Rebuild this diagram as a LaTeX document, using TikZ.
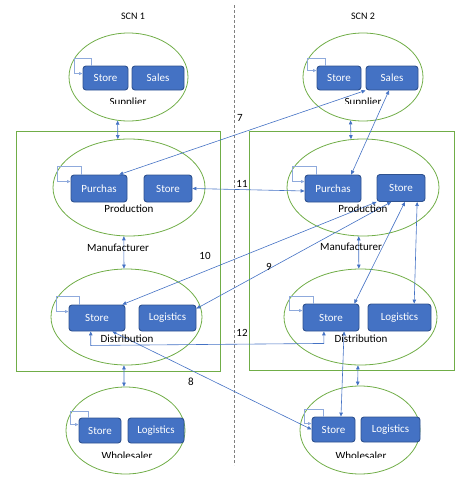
\documentclass[tikz,border=0pt]{standalone}
\usepackage{fontspec}
\setmainfont{Carlito}
\usetikzlibrary{shapes.geometric,arrows.meta,calc}
\definecolor{boxfill}{HTML}{4472C4}
\definecolor{boxline}{HTML}{2F528F}
\definecolor{grn}{HTML}{70AD47}
\definecolor{connblue}{HTML}{4472C4}
\definecolor{loopc}{HTML}{8FAADC}
\definecolor{dashgray}{HTML}{7F7F7F}
\newcommand\selfloop[5]{%
  \draw[loopline] ($(#1.north west)+(#2,0)$) -- ($(#1.north west)+(#2,#3)$)
    -- ($(#1.north west)+(#4,#3)$) -- ($(#1.north west)+(#4,#5)$) -- ($(#1.north west)+(0,#5)$);}
\begin{document}
\begin{tikzpicture}[x=1pt,y=-1pt,font=\fontsize{11}{13}\selectfont,
  box/.style={draw=boxline,fill=boxfill,line width=0.9pt,rounded corners=3pt,text=white,inner sep=0pt},
  ell/.style={ellipse,draw=grn,line width=0.8pt,inner sep=0pt},
  frame/.style={rectangle,draw=grn,line width=1pt,inner sep=0pt},
  link/.style={draw=connblue,line width=0.6pt,{Triangle[length=4pt,width=3.5pt]}-{Triangle[length=4pt,width=3.5pt]}},
  loopline/.style={draw=loopc,line width=0.7pt,-{Triangle[length=3.5pt,width=3pt]},draw=connblue!60},
  lbl/.style={anchor=base,inner sep=0pt,text=black}]
\useasboundingbox (0,0) rectangle (474,477);

% divider
\draw[dashgray,line width=0.6pt,dash pattern=on 3pt off 2pt] (234,5) -- (234,465);

% frames
\node[frame,minimum width=204pt,minimum height=240pt] (m1) at (118,251) {};
\node[frame,minimum width=205pt,minimum height=239pt] (m2) at (351.5,250.5) {};

% ellipses
\node[ell,minimum width=119pt,minimum height=88pt] (es1) at (128.5,77) {};
\node[ell,minimum width=152pt,minimum height=97pt] (ep1) at (129,187.5) {};
\node[ell,minimum width=151pt,minimum height=96pt] (ed1) at (126.5,317) {};
\node[ell,minimum width=119pt,minimum height=87pt] (ew1) at (125.5,430.5) {};
\node[ell,minimum width=120pt,minimum height=88pt] (es2) at (363,77) {};
\node[ell,minimum width=152pt,minimum height=97pt] (ep2) at (363,187.5) {};
\node[ell,minimum width=153pt,minimum height=96pt] (ed2) at (360.5,317) {};
\node[ell,minimum width=120pt,minimum height=88pt] (ew2) at (360,430) {};

% boxes
\node[box,minimum width=45pt,minimum height=24pt] (sst1) at (105.5,78) {Store};
\node[box,minimum width=52pt,minimum height=24pt] (ssa1) at (158,78) {Sales};
\node[box,minimum width=56pt,minimum height=27pt] (pp1) at (99,188.5) {Purchas};
\node[box,minimum width=48pt,minimum height=27pt] (ps1) at (168,188.5) {Store};
\node[box,minimum width=56pt,minimum height=26pt] (ds1) at (97,318) {Store};
\node[box,minimum width=57pt,minimum height=26pt] (dl1) at (167.5,318) {Logistics};
\node[box,minimum width=42pt,minimum height=25pt] (ws1) at (100,430.5) {Store};
\node[box,minimum width=56pt,minimum height=25pt] (wl1) at (156,430.5) {Logistics};
\node[box,minimum width=44pt,minimum height=24pt] (sst2) at (339,78) {Store};
\node[box,minimum width=52pt,minimum height=24pt] (ssa2) at (392,78) {Sales};
\node[box,minimum width=56pt,minimum height=27pt] (pp2) at (333,188.5) {Purchas};
\node[box,minimum width=48pt,minimum height=27pt] (ps2) at (401,188) {Store};
\node[box,minimum width=56pt,minimum height=27pt] (ds2) at (331,317.5) {Store};
\node[box,minimum width=63pt,minimum height=27pt] (dl2) at (399.5,317.5) {Logistics};
\node[box,minimum width=43pt,minimum height=25pt] (ws2) at (333.5,429.5) {Store};
\node[box,minimum width=59pt,minimum height=25pt] (wl2) at (390.5,429.5) {Logistics};

% self loops
\selfloop{sst1}{9}{-7}{-8}{8}
\selfloop{pp1}{11}{-8}{-13}{7}
\selfloop{ds1}{11}{-8}{-12}{7}
\selfloop{ws1}{10}{-6}{-8}{7}
\selfloop{sst2}{9}{-7}{-9}{5}
\selfloop{pp2}{12}{-8}{-12}{7}
\selfloop{ds2}{11}{-7}{-13}{7}
\selfloop{ws2}{12}{-7}{-7}{7}

% vertical links between ellipses
\draw[link] (es1.256) -- (ep1.103);
\draw[link] (ep1.264) -- (ed1.93);
\draw[link] (ed1.267) -- (ew1.92);
\draw[link] (es2.254) -- (ep2.104);
\draw[link] (ep2.265) -- (ed2.92);
\draw[link] (ed2.267) -- (ew2.93);

% cross links
\draw[link] (ssa2.south west) -- ($(pp1.north)!0.71!(pp1.north east)$);
\draw[link] ($(ssa2.south)+(-3,0)$) -- ($(pp2.north)!0.64!(pp2.north east)$);
\draw[link] (ps1.east) -- ($(pp2.west)+(0,2.5)$);
\draw[link] ($(ds1.north)!0.89!(ds1.north east)$) -- (ps2.south west);
\draw[link] ($(dl1.north east)!0.15!(dl1.south east)$) -- ($(ps2.south west)!0.3!(ps2.south east)$);
\draw[link] ($(ps2.south west)!0.58!(ps2.south east)$) -- ($(ds2.north west)!0.91!(ds2.north east)$);
\draw[link] ($(ps2.south west)!0.83!(ps2.south east)$) -- ($(dl2.north west)!0.73!(dl2.north east)$);
\coordinate (a12) at ($(ds1.south west)!0.39!(ds1.south east)$);
\coordinate (b12) at ($(ds2.south west)!0.375!(ds2.south east)$);
\draw[link] (a12) -- ++(0,14) -- ($(b12)+(0,12)$) -- (b12);
\draw[link] ($(ds1.south west)!0.77!(ds1.south east)$) -- (ws2.west);
\draw[link] ($(ds2.south west)!0.73!(ds2.south east)$) -- ($(ws2.north west)!0.67!(ws2.north east)$);

% labels
\node[lbl,font=\fontsize{10}{12}\selectfont] (t1) at (133,19) {SCN 1};
\node[lbl,font=\fontsize{10}{12}\selectfont] (t2) at (363,19) {SCN 2};
\begin{scope}
\clip (0,0) rectangle (474,103);
\node[lbl] (su1) at (128,105.5) {Supplier};
\node[lbl] (su2) at (363,105.5) {Supplier};
\end{scope}
\begin{scope}
\clip (0,0) rectangle (474,457);
\node[lbl] (wh1) at (127,459.5) {Wholesaler};
\node[lbl] (wh2) at (361,459.5) {Wholesaler};
\end{scope}
\node[lbl] (pr1) at (129,212.5) {Production};
\node[lbl] (pr2) at (363,212) {Production};
\node[lbl] (mf1) at (118,251) {Manufacturer};
\node[lbl] (mf2) at (351,250) {Manufacturer};
\node[lbl] (di1) at (127,342) {Distribution};
\node[lbl] (di2) at (361,342) {Distribution};
\node[lbl] (n7) at (240,121) {7};
\node[lbl] (n11) at (242,187) {11};
\node[lbl] (n10) at (205,259) {10};
\node[lbl] (n9) at (269,270) {9};
\node[lbl] (n12) at (242,336) {12};
\node[lbl] (n8) at (191,385) {8};
\end{tikzpicture}
\end{document}
